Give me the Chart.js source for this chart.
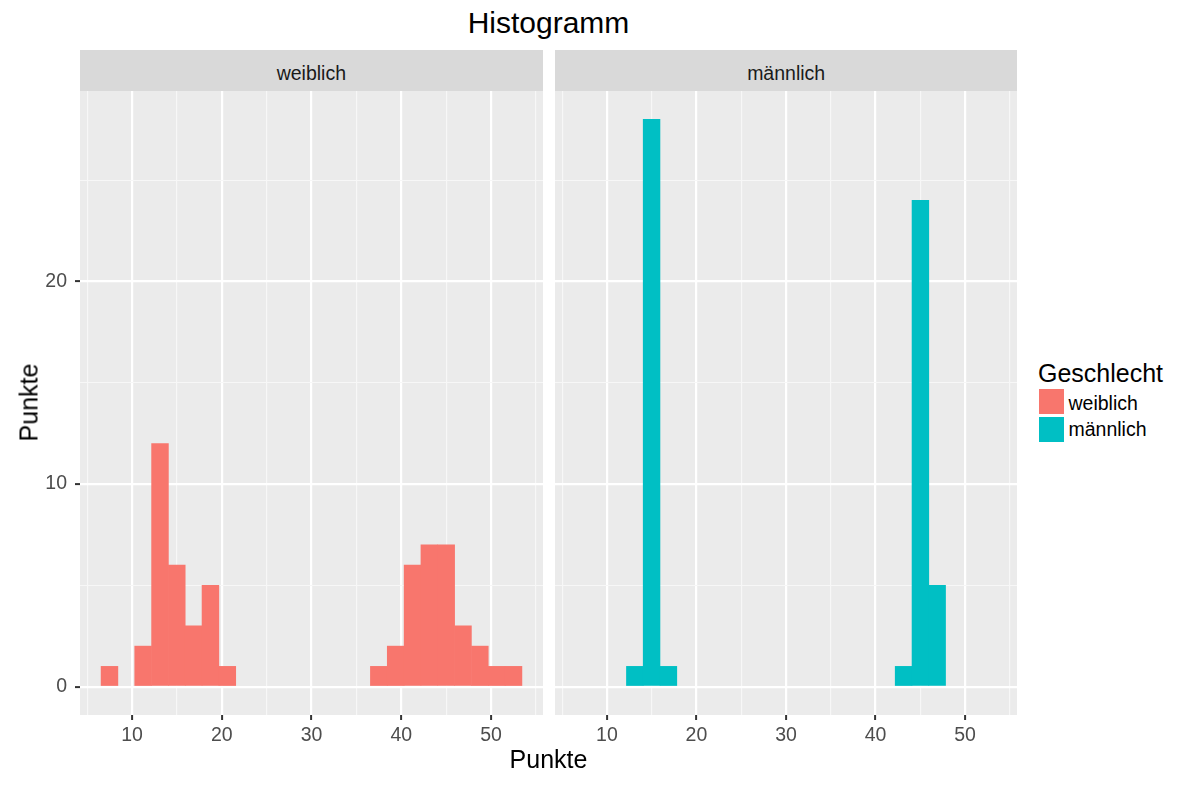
<!DOCTYPE html>
<html>
<head>
<meta charset="utf-8">
<script src="https://cdn.jsdelivr.net/npm/chart.js@4.4.1/dist/chart.umd.min.js"></script>
<style>
  html, body { margin: 0; padding: 0; background: #ffffff; }
  body { width: 1200px; height: 789px; position: relative; overflow: hidden;
         font-family: "Liberation Sans", Arial, sans-serif; }
  .t { position: absolute; white-space: nowrap; color: #000; }
  canvas { position: absolute; }
  .strip { position: absolute; background: #D9D9D9; }
  .key { position: absolute; width: 25px; height: 25px; }
</style>
</head>
<body>
<div class="t" id="title" style="left:80px;width:937px;top:8px;font-size:30px;line-height:30px;text-align:center;"></div>

<div class="strip" style="left:80px;top:50.3px;width:462.7px;height:40.4px;"></div>
<div class="strip" style="left:555px;top:50.3px;width:462.3px;height:40.4px;"></div>
<div class="t" id="strip0" style="left:80px;width:462.7px;top:63.5px;font-size:19.5px;line-height:19.5px;text-align:center;color:#1A1A1A;"></div>
<div class="t" id="strip1" style="left:555px;width:462.3px;top:63.5px;font-size:19.5px;line-height:19.5px;text-align:center;color:#1A1A1A;"></div>

<canvas id="c0" width="543" height="674" style="left:0px;top:91px;"></canvas>
<canvas id="c1" width="462" height="674" style="left:555px;top:91px;"></canvas>

<div class="t" id="xtitle" style="left:80px;width:937px;top:747px;font-size:25px;line-height:25px;text-align:center;"></div>
<div class="t" id="ytitle" style="left:-71.4px;width:200px;top:390px;font-size:25px;line-height:25px;text-align:center;transform:rotate(-90deg);"></div>

<div class="t" id="legtitle" style="left:1038px;top:360.5px;font-size:25px;line-height:25px;"></div>
<div class="key" id="key0" style="left:1039px;top:389px;"></div>
<div class="key" id="key1" style="left:1039px;top:417px;"></div>
<div class="t" id="leg0" style="left:1068.5px;top:394.2px;font-size:19.5px;line-height:19.5px;"></div>
<div class="t" id="leg1" style="left:1068.5px;top:420.2px;font-size:19.5px;line-height:19.5px;"></div>

<script>
// ---------------- data ----------------
const chartTitle = "Histogramm";
const xAxisTitle = "Punkte";
const yAxisTitle = "Punkte";
const legendTitle = "Geschlecht";
const groups = ["weiblich", "männlich"];
const groupColors = ["#F8766D", "#00BFC4"];

// bin centres (Punkte)
const binCenters = [7.49, 9.36, 11.24, 13.12, 14.99, 16.87, 18.74, 20.62, 22.50, 24.37,
                    26.25, 28.12, 30.00, 31.88, 33.75, 35.63, 37.50, 39.38, 41.26, 43.13,
                    45.01, 46.88, 48.76, 50.64, 52.51];
// counts per bin
const weiblichCounts = [1, 0, 2, 12, 6, 3, 5, 1, 0, 0,
                        0, 0, 0, 0, 0, 0, 1, 2, 6, 7,
                        7, 3, 2, 1, 1];
const maennlichCounts = [0, 0, 0, 1, 28, 1, 0, 0, 0, 0,
                         0, 0, 0, 0, 0, 0, 0, 0, 0, 1,
                         24, 5, 0, 0, 0];

const xMajorTicks = [10, 20, 30, 40, 50];
const xMinorTicks = [5, 15, 25, 35, 45, 55];
const yMajorTicks = [0, 10, 20];
const yMinorTicks = [5, 15, 25];
const xLimits = [4.205, 55.795];
const yLimits = [-1.4, 29.4];

// ---------------- text ----------------
document.getElementById('title').textContent = chartTitle;
document.getElementById('xtitle').textContent = xAxisTitle;
document.getElementById('ytitle').textContent = yAxisTitle;
document.getElementById('legtitle').textContent = legendTitle;
document.getElementById('strip0').textContent = groups[0];
document.getElementById('strip1').textContent = groups[1];
document.getElementById('leg0').textContent = groups[0];
document.getElementById('leg1').textContent = groups[1];
document.getElementById('key0').style.background = groupColors[0];
document.getElementById('key1').style.background = groupColors[1];

// ---------------- charts ----------------
const FONT = '"Liberation Sans", Arial, sans-serif';
const panelBg = {
  id: 'panelBg',
  beforeDraw(chart) {
    const a = chart.chartArea, ctx = chart.ctx;
    ctx.save();
    ctx.fillStyle = '#EBEBEB';
    ctx.fillRect(a.left, a.top, a.right - a.left, a.bottom - a.top);
    ctx.restore();
  }
};

function isMajor(list, v) { return list.indexOf(v) >= 0; }

function makeChart(id, counts, color, showY) {
  // empty bins are kept as positions but not drawn
  const data = binCenters.map((x, i) => ({ x: x, y: counts[i] === 0 ? null : counts[i] }));
  return new Chart(document.getElementById(id), {
    type: 'bar',
    data: { datasets: [{ data: data, backgroundColor: color, borderWidth: 0,
                         barPercentage: 1, categoryPercentage: 1 }] },
    options: {
      responsive: false,
      animation: false,
      events: [],
      layout: { padding: 0 },
      plugins: { legend: { display: false }, tooltip: { enabled: false }, title: { display: false } },
      scales: {
        x: {
          type: 'linear', min: xLimits[0], max: xLimits[1], offset: false,
          afterBuildTicks: s => { s.ticks = xMinorTicks.concat(xMajorTicks).sort((a, b) => a - b).map(v => ({ value: v })); },
          afterFit: s => { s.height = 50; s.paddingLeft = 0; s.paddingRight = 0; s.paddingTop = 0; s.paddingBottom = 0; },
          border: { display: false },
          grid: {
            offset: false, drawOnChartArea: true, drawTicks: true, tickLength: 5,
            color: c => isMajor(xMajorTicks, c.tick.value) ? '#FFFFFF' : '#F7F7F7',
            lineWidth: c => isMajor(xMajorTicks, c.tick.value) ? 2.2 : 1.1,
            tickColor: c => isMajor(xMajorTicks, c.tick.value) ? '#333333' : 'rgba(0,0,0,0)',
            tickWidth: 2
          },
          ticks: {
            autoSkip: false, maxRotation: 0, minRotation: 0, padding: 4,
            color: '#4D4D4D', font: { family: FONT, size: 19.5 },
            callback: v => isMajor(xMajorTicks, v) ? String(v) : ''
          }
        },
        y: {
          type: 'linear', min: yLimits[0], max: yLimits[1],
          afterBuildTicks: s => { s.ticks = yMinorTicks.concat(yMajorTicks).sort((a, b) => a - b).map(v => ({ value: v })); },
          afterFit: s => { s.width = showY ? 80 : 0; s.paddingLeft = 0; s.paddingRight = 0; s.paddingTop = 0; s.paddingBottom = 0; },
          border: { display: false },
          grid: {
            drawOnChartArea: true, drawTicks: showY, tickLength: 5,
            color: c => isMajor(yMajorTicks, c.tick.value) ? '#FFFFFF' : '#F7F7F7',
            lineWidth: c => isMajor(yMajorTicks, c.tick.value) ? 2.2 : 1.1,
            tickColor: c => isMajor(yMajorTicks, c.tick.value) ? '#333333' : 'rgba(0,0,0,0)',
            tickWidth: 2
          },
          ticks: {
            display: showY, autoSkip: false, padding: 8,
            color: '#4D4D4D', font: { family: FONT, size: 19.5 },
            callback: v => isMajor(yMajorTicks, v) ? String(v) : ''
          }
        }
      }
    },
    plugins: [panelBg]
  });
}

makeChart('c0', weiblichCounts, groupColors[0], true);
makeChart('c1', maennlichCounts, groupColors[1], false);
</script>
</body>
</html>
